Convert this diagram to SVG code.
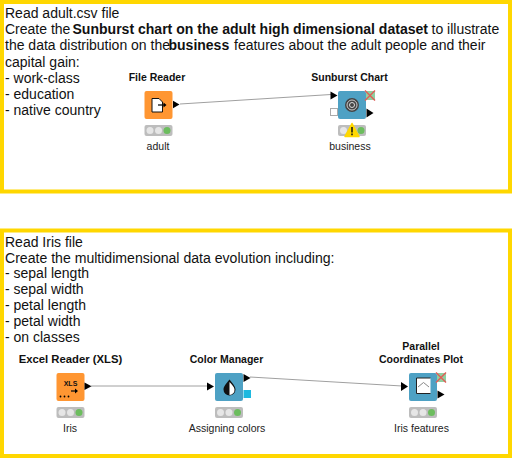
<svg xmlns="http://www.w3.org/2000/svg" width="512" height="459" viewBox="0 0 512 459">
<style>
text{font-family:"Liberation Sans",Arial,sans-serif;fill:#111}
.a{font-size:14px}
.t{font-size:10.5px;font-weight:bold;text-anchor:middle}
.l{font-size:10.5px;text-anchor:middle;fill:#222}
.f{fill:none;stroke:#ffd700;stroke-width:4}
.o{fill:#ff9632}.m{fill:#4ea1c4}
.c{fill:none;stroke:#a0a0a0;stroke-width:1}
.p{fill:#000}
.tl{fill:#bdbdbd}
.g{fill:#e6e6e6}.n{fill:#6cbd5e}
.x{stroke:#e0605a;stroke-width:1.500;fill:none}
.ic{fill:#fff;stroke:#111;stroke-width:1}
</style>
<rect width="512" height="459" fill="#fff"/>
<g id="annotation-1">
<rect class="f" x="2" y="2" width="508" height="189.500"/>
<text class="a" x="5" y="18">Read adult.csv file</text>
<text class="a" x="5" y="33.500">Create the</text>
<text class="a" x="72.500" y="33.500" font-weight="bold" style="font-size:14.04px">Sunburst chart on the adult high dimensional dataset</text>
<text class="a" x="431.500" y="33.500">to illustrate</text>
<text class="a" x="5" y="50">the data distribution on the</text>
<text class="a" x="168.500" y="50" font-weight="bold">business</text>
<text class="a" x="234" y="50">features about the adult people and their</text>
<text class="a" x="5" y="66.500">capital gain:</text>
<text class="a" x="5" y="82.500">- work-class</text>
<text class="a" x="5" y="98.500">- education</text>
<text class="a" x="5" y="114.500">- native country</text>
</g>
<g id="annotation-2">
<rect class="f" x="2" y="230.500" width="508" height="225.500"/>
<text class="a" x="5" y="246.500">Read Iris file</text>
<text class="a" x="5" y="262.500" style="font-size:14.08px">Create the multidimensional data evolution including:</text>
<text class="a" x="5" y="277.500">- sepal length</text>
<text class="a" x="5" y="293.500">- sepal width</text>
<text class="a" x="5" y="309.500">- petal length</text>
<text class="a" x="5" y="325.500">- petal width</text>
<text class="a" x="5" y="341.500">- on classes</text>
</g>
<g id="connectors">
<path class="c" d="M180 104 L331 94.500"/>
<path class="c" d="M91 386 L208 386"/>
<path class="c" d="M250 377 L402 386"/>
</g>
<g id="file-reader">
<text class="t" x="157" y="80.500">File Reader</text>
<rect class="o" x="144.500" y="91" width="28" height="28" rx="2"/>
<path class="ic" d="M152 98.500h7l3.500 3.500v10h-10.500z"/>
<path d="M158 105h6.500" stroke="#111" stroke-width="1.300"/><path class="p" d="M163.500 102.500l3 2.500-3 2.500z"/>
<path class="p" d="M173 100.800l6.500 3.700-6.500 3.700z"/>
<rect class="tl" x="144.500" y="125" width="28" height="11" rx="2"/>
<circle class="g" cx="150" cy="130.500" r="3.500"/><circle class="g" cx="158.500" cy="130.500" r="3.500"/><circle class="n" cx="167" cy="130.500" r="3.500"/>
<text class="l" x="158" y="150">adult</text>
</g>
<g id="sunburst-chart">
<text class="t" x="349.500" y="80.500">Sunburst Chart</text>
<rect class="m" x="338" y="91" width="28" height="28" rx="2"/>
<circle cx="352" cy="105" r="7" fill="#444"/><circle cx="352" cy="105" r="5" fill="none" stroke="#ccc" stroke-width="1"/><circle cx="352" cy="105" r="2.500" fill="none" stroke="#ddd" stroke-width="1"/>
<path class="p" d="M330.500 91.500l7 4-7 4z"/>
<rect x="330.500" y="108.500" width="7" height="7" fill="#fff" stroke="#aaa"/>
<path class="p" d="M366.500 108.500l7 4.500-7 4.500z"/>
<rect x="366" y="91" width="9" height="9" fill="#8fd0a0"/>
<path class="x" d="M365 90.500l10 10M375 90.500l-10 10"/>
<rect class="tl" x="338" y="125" width="28" height="11" rx="2"/>
<circle class="g" cx="343.500" cy="130.500" r="3.500"/><circle class="g" cx="352" cy="130.500" r="3.500"/><circle class="n" cx="361" cy="130.500" r="3.500"/>
<path d="M352 123.500l7 13h-14z" fill="#ffd800" stroke="#ffd800" stroke-width="1.500" stroke-linejoin="round"/>
<path d="M352 127v5.500M352 133.500v1.800" stroke="#111" stroke-width="1.500"/>
<text class="l" x="350" y="150">business</text>
</g>
<g id="excel-reader">
<text class="t" x="70.500" y="362.500" style="font-size:11.3px">Excel Reader (XLS)</text>
<rect class="o" x="56.500" y="373" width="28" height="28" rx="2"/>
<text x="70.500" y="386" font-size="7" font-weight="bold" text-anchor="middle">XLS</text>
<path d="M71 391h5.500" stroke="#111" stroke-width="1.300"/><path class="p" d="M75 388.500l3 2.500-3 2.500z"/>
<circle class="p" cx="60.500" cy="396.500" r=".9"/><circle class="p" cx="64.500" cy="396.500" r=".9"/><circle class="p" cx="68.500" cy="396.500" r=".9"/>
<path class="p" d="M84.500 382.500l7 3.800-7 3.800z"/>
<rect class="tl" x="56.500" y="407" width="28" height="11" rx="2"/>
<circle class="g" cx="62" cy="412.500" r="3.500"/><circle class="g" cx="70.500" cy="412.500" r="3.500"/><circle class="n" cx="79" cy="412.500" r="3.500"/>
<text class="l" x="70" y="432">Iris</text>
</g>
<g id="color-manager">
<text class="t" x="226.500" y="362.500">Color Manager</text>
<rect class="m" x="215" y="373" width="28" height="28" rx="2"/>
<path d="M229.500 379.500c3.500 4.500 6 7 6 10a6 6 0 0 1-12 0c0-3 2.500-5.500 6-10z" fill="#111"/>
<path d="M229.500 382v13a5 5 0 0 0 5-5.500c0-2.500-2.500-4.500-5-7.500z" fill="#fff"/>
<path class="p" d="M207 382.500l7 4-7 4z"/>
<path class="p" d="M243.500 374l7 4-7 4z"/>
<rect x="243.500" y="390" width="7.500" height="8" fill="#1eb9e0"/>
<rect class="tl" x="215" y="407" width="28" height="11" rx="2"/>
<circle class="g" cx="220.500" cy="412.500" r="3.500"/><circle class="g" cx="229" cy="412.500" r="3.500"/><circle class="n" cx="237.500" cy="412.500" r="3.500"/>
<text class="l" x="227" y="432">Assigning colors</text>
</g>
<g id="parallel-coordinates">
<text class="t" x="421" y="350">Parallel</text>
<text class="t" x="421" y="362.500">Coordinates Plot</text>
<rect class="m" x="409" y="373" width="28" height="28" rx="2"/>
<rect x="416.500" y="378" width="14" height="15.500" fill="#fff"/>
<path d="M416.500 378h14M416.500 378v15.500h14" fill="none" stroke="#222"/>
<path d="M418 387l5.500-4.500 5.500 4.500" fill="none" stroke="#888" stroke-width="1"/>
<path class="p" d="M401 382l7 4.500-7 4.500z"/>
<path class="p" d="M437.500 390.500l7 4-7 4z"/>
<rect x="437" y="373" width="9" height="9" fill="#8fd0a0"/>
<path class="x" d="M436 372.500l10 10M446 372.500l-10 10"/>
<rect class="tl" x="409" y="407" width="28" height="11" rx="2"/>
<circle class="g" cx="414.500" cy="412.500" r="3.500"/><circle class="g" cx="423" cy="412.500" r="3.500"/><circle class="n" cx="431.500" cy="412.500" r="3.500"/>
<text class="l" x="421.500" y="432">Iris features</text>
</g>
</svg>
